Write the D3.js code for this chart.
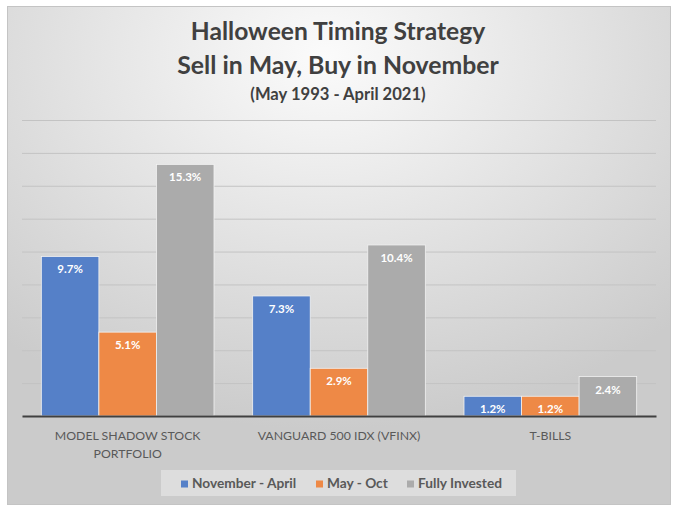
<!DOCTYPE html>
<html>
<head>
<meta charset="utf-8">
<script src="https://cdn.jsdelivr.net/npm/d3@7/dist/d3.min.js"></script>
<style>
  html, body { margin: 0; padding: 0; background: #ffffff; }
  svg { display: block; }
</style>
</head>
<body>
<script>
// ---- data ----
const categories = ["MODEL SHADOW STOCK PORTFOLIO", "VANGUARD 500 IDX (VFINX)", "T-BILLS"];
const categoryLines = [["MODEL SHADOW STOCK", "PORTFOLIO"], ["VANGUARD 500 IDX (VFINX)"], ["T-BILLS"]];
const seriesNames = ["November - April", "May - Oct", "Fully Invested"];
const novApr = [9.7, 7.3, 1.2];
const mayOct = [5.1, 2.9, 1.2];
const fullyInvested = [15.3, 10.4, 2.4];
const gridTicks = [0, 2, 4, 6, 8, 10, 12, 14, 16, 18];
const titleLines = ["Halloween Timing Strategy", "Sell in May, Buy in November"];
const subtitle = "(May 1993 - April 2021)";

const seriesValues = [novApr, mayOct, fullyInvested];
const colors = ["#5580C8", "#EE8946", "#ABABAB"];

const W = 677, H = 512;
const font = "Lato, 'Open Sans', sans-serif";

const svg = d3.select("body").append("svg").attr("width", W).attr("height", H);

// background gradient
const defs = svg.append("defs");
const rg = defs.append("radialGradient").attr("id", "bg")
  .attr("cx", "48%").attr("cy", "10%").attr("r", "75%")
  .attr("fx", "48%").attr("fy", "10%");
rg.append("stop").attr("offset", "0%").attr("stop-color", "#fbfbfb");
rg.append("stop").attr("offset", "100%").attr("stop-color", "#cbcbcb");

svg.append("rect").attr("x", 7.5).attr("y", 6.5).attr("width", 663).attr("height", 498)
  .attr("fill", "url(#bg)").attr("stroke", "#c4c4c4").attr("stroke-width", 1);

// scales
const plot = { left: 22, right: 656, top: 120, bottom: 416 };
const x0 = d3.scaleBand().domain(categories).range([plot.left, plot.right])
  .paddingInner(0.183).paddingOuter(0.0915);
const x1 = d3.scaleBand().domain(seriesNames).range([0, x0.bandwidth()]).padding(0);
const y = d3.scaleLinear().domain([0, 18]).range([plot.bottom, plot.top]);

// gridlines
const grid = svg.append("g").attr("transform", `translate(${plot.left},0)`)
  .call(d3.axisLeft(y).tickValues(gridTicks).tickSize(-(plot.right - plot.left)).tickFormat(""));
grid.select(".domain").remove();
grid.selectAll(".tick line").attr("stroke", "#c3c3c3").attr("stroke-width", 1);

// bars
const rows = categories.map((c, i) => ({ cat: c, vals: seriesNames.map((s, j) => ({ s, j, v: seriesValues[j][i] })) }));
const groups = svg.append("g").selectAll("g").data(rows).join("g")
  .attr("transform", d => `translate(${x0(d.cat)},0)`);
groups.selectAll("rect").data(d => d.vals).join("rect")
  .attr("x", d => x1(d.s))
  .attr("y", d => y(d.v))
  .attr("width", x1.bandwidth())
  .attr("height", d => y(0) - y(d.v))
  .attr("fill", d => colors[d.j])
  .attr("stroke", "#f2f2f2").attr("stroke-width", 0.8);
groups.selectAll("text").data(d => d.vals).join("text")
  .attr("x", d => x1(d.s) + x1.bandwidth() / 2)
  .attr("y", d => y(d.v) + 17)
  .attr("text-anchor", "middle")
  .attr("fill", "#ffffff").attr("font-family", font).attr("font-weight", "bold")
  .attr("font-size", "11.5px")
  .text(d => d.v.toFixed(1) + "%");

// x axis line
const xAxis = svg.append("g").attr("transform", `translate(0,${plot.bottom})`)
  .call(d3.axisBottom(x0).tickSize(0).tickFormat(""));
xAxis.select(".domain").attr("stroke", "#404040").attr("stroke-width", 2);

// category labels
categories.forEach((c, i) => {
  const t = svg.append("text").attr("x", x0(c) + x0.bandwidth() / 2).attr("y", 440)
    .attr("text-anchor", "middle").attr("fill", "#595959")
    .attr("font-family", font).attr("font-size", "12.3px");
  categoryLines[i].forEach((ln, k) => {
    t.append("tspan").attr("x", x0(c) + x0.bandwidth() / 2).attr("dy", k === 0 ? 0 : 18).text(ln);
  });
});

// title
svg.append("text").attr("x", 338).attr("y", 40).attr("text-anchor", "middle")
  .attr("fill", "#404040").attr("font-family", font).attr("font-weight", "bold")
  .attr("font-size", "24.6px").text(titleLines[0]);
svg.append("text").attr("x", 338).attr("y", 74).attr("text-anchor", "middle")
  .attr("fill", "#404040").attr("font-family", font).attr("font-weight", "bold")
  .attr("font-size", "24.8px").text(titleLines[1]);
svg.append("text").attr("x", 338).attr("y", 100).attr("text-anchor", "middle")
  .attr("fill", "#404040").attr("font-family", font).attr("font-weight", "bold")
  .attr("font-size", "16.6px").text(subtitle);

// legend
svg.append("rect").attr("x", 161).attr("y", 470).attr("width", 355).attr("height", 26)
  .attr("fill", "#ffffff").attr("fill-opacity", 0.35);
const legX = [181, 316, 407];
seriesNames.forEach((s, j) => {
  svg.append("rect").attr("x", legX[j]).attr("y", 480.5).attr("width", 7).attr("height", 7)
    .attr("fill", colors[j]);
  svg.append("text").attr("x", legX[j] + 11).attr("y", 487.5)
    .attr("fill", "#595959").attr("font-family", font).attr("font-weight", "bold")
    .attr("font-size", "13.7px").text(s);
});
</script>
</body>
</html>
